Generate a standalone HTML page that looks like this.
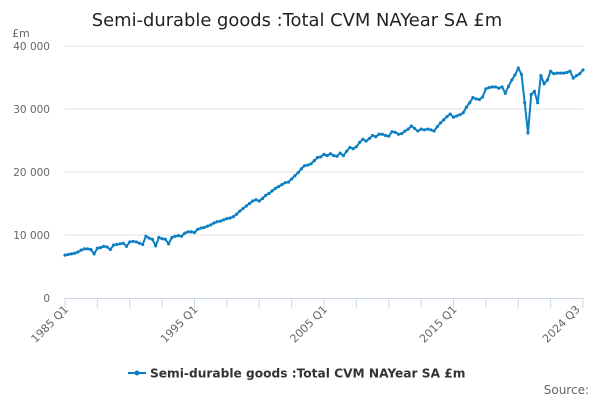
<!DOCTYPE html>
<html><head><meta charset="utf-8"><style>
body{margin:0;background:#fff;font-family:"DejaVu Sans",sans-serif}
svg text{font-family:"DejaVu Sans",sans-serif}
</style></head><body>
<svg id="c" width="600" height="400">
<text x="297" y="26" font-size="17.9" fill="#222" text-anchor="middle">Semi-durable goods :Total CVM NAYear SA £m</text>
<text x="12" y="37" font-size="11" fill="#666">£m</text>
<g id="grid"></g><g id="xax"></g><g id="series"></g>
<g>
<line x1="128" y1="373" x2="146" y2="373" stroke="#0b7fc1" stroke-width="2"/>
<circle cx="137" cy="373" r="2.5" fill="#0b7fc1"/>
<text x="150" y="377.5" font-size="12.2" font-weight="bold" fill="#333">Semi-durable goods :Total CVM NAYear SA £m</text>
</g>
<text x="589" y="394" font-size="12" fill="#666" text-anchor="end">Source:</text>
</svg>
<script>
const yTicks=[0,10000,20000,30000,40000];
const yTickLabels=["0","10 000","20 000","30 000","40 000"];
const xLabels=["1985 Q1","1995 Q1","2005 Q1","2015 Q1","2024 Q3"];
const xLabelIdx=[0,40,80,120,158];
const values=[6.8,6.9,7.0,7.1, 7.3,7.6,7.8,7.8, 7.7,7.0,7.9,8.0, 8.2,8.1,7.7,8.4, 8.5,8.6,8.7,8.2,
8.9,9.0,8.9,8.7, 8.5,9.8,9.5,9.3, 8.3,9.6,9.4,9.3, 8.6,9.6,9.8,9.9, 9.8,10.3,10.5,10.5,
10.4,10.9,11.1,11.2, 11.4,11.6,11.9,12.1, 12.2,12.4,12.6,12.7, 12.9,13.3,13.8,14.2, 14.6,15.0,15.4,15.6,
15.4,15.8,16.3,16.6, 17.0,17.4,17.7,18.0, 18.3,18.4,18.9,19.4, 19.9,20.5,21.0,21.1, 21.3,21.8,22.3,22.4,
22.8,22.6,22.9,22.6, 22.5,23.0,22.6,23.3, 23.9,23.7,24.0,24.7, 25.2,24.9,25.3,25.8, 25.6,26.0,26.0,25.8,
25.7,26.4,26.3,26.0, 26.1,26.5,26.8,27.3, 26.9,26.5,26.8,26.7, 26.8,26.7,26.5,27.2, 27.8,28.3,28.8,29.2,
28.7,28.9,29.1,29.4, 30.3,31.0,31.8,31.6, 31.5,31.9,33.2,33.4, 33.5,33.5,33.3,33.5, 32.5,33.6,34.6,35.4,
36.5,35.5,31.0,26.2,32.3,32.8,31.0,35.3,34.0,34.6,36.0,35.6,35.7,35.7,35.7,35.8,36.0,34.9,35.3,35.6,36.2].map(v=>v*1000);
const X0=65,X1=583,Y0=298,Y1=46;
const xs=i=>X0+(X1-X0)*i/(values.length-1);
const ys=v=>Y0-(Y0-Y1)*v/40000;
const NS="http://www.w3.org/2000/svg";
function mk(t,a,p){const e=document.createElementNS(NS,t);for(const k in a)e.setAttribute(k,a[k]);p.appendChild(e);return e;}
const grid=document.getElementById('grid');
yTicks.forEach((t,i)=>{
 if(t>0){const l=mk('line',{x1:X0,x2:X1,y1:ys(t),y2:ys(t),stroke:'#e0e0e0'},grid);
 
 }
 const tx=mk('text',{x:50,y:ys(t)+4,'font-size':10.5,fill:'#666','text-anchor':'end'},grid);
 tx.textContent=yTickLabels[i];
 
 
});
const xax=document.getElementById('xax');
const al=mk('line',{x1:X0,x2:X1,y1:Y0+0.5,y2:Y0+0.5,stroke:'#ccd6eb'},xax);


for(let i=0;i<values.length;i+=10){
 const t=mk('line',{x1:xs(i),x2:xs(i),y1:Y0,y2:Y0+10,stroke:'#ccd6eb'},xax);
 
 
}
xLabels.forEach((s,k)=>{
 const x=xs(xLabelIdx[k]);
 const tx=mk('text',{x:x+4,y:Y0+12,'font-size':11,fill:'#666','text-anchor':'end',transform:`rotate(-45 ${x+4} ${Y0+12})`},xax);
 tx.textContent=s;
 
 
});
const g=document.getElementById('series');
const path=mk('path',{d:values.map((v,i)=>(i?'L':'M')+xs(i).toFixed(1)+' '+ys(v).toFixed(1)).join(''),fill:'none',stroke:'#0b7fc1','stroke-width':2},g);


values.forEach((v,i)=>{
 const c=mk('circle',{cx:xs(i),cy:ys(v),r:1.6,fill:'#0b7fc1'},g);
 
 
});
</script>
</body></html>
